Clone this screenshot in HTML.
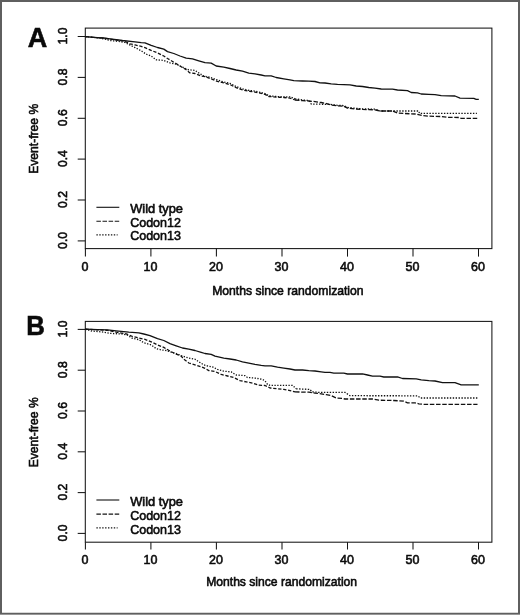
<!DOCTYPE html>
<html><head><meta charset="utf-8"><title>Event-free survival</title>
<style>
html,body{margin:0;padding:0;background:#fff;}
body{width:520px;height:615px;overflow:hidden;}
svg{display:block;}
text{font-family:"Liberation Sans", Arial, Helvetica, sans-serif;fill:#0a0a0a;stroke:#0a0a0a;stroke-width:0.6px;}
.t{font-size:13.4px;}
.ln{stroke:#141414;stroke-width:1.05;fill:none;}
.lg{stroke:#141414;stroke-width:1.12;fill:none;}
.cv{stroke:#111;stroke-width:1.3;fill:none;stroke-linejoin:round;}
</style></head><body>
<svg width="520" height="615" viewBox="0 0 520 615">
<rect x="0" y="0" width="520" height="615" fill="#fff"/>
<path d="M0 0H520V615H0Z M2 2.1V612.65H518V2.1Z" fill="#5f5f5f" fill-rule="evenodd"/>
<rect x="0" y="614" width="520" height="1" fill="#979797"/>

<g id="panelA">
<rect class="ln" x="85.3" y="28.1" width="406.6" height="220.5"/>
<line class="ln" x1="77.7" y1="240.9" x2="85.3" y2="240.9"/>
<text class="t" text-anchor="middle" textLength="17.05" lengthAdjust="spacingAndGlyphs" transform="translate(67.1,240.4) rotate(-90)">0.0</text>
<line class="ln" x1="77.7" y1="200.0" x2="85.3" y2="200.0"/>
<text class="t" text-anchor="middle" textLength="17.05" lengthAdjust="spacingAndGlyphs" transform="translate(67.1,199.5) rotate(-90)">0.2</text>
<line class="ln" x1="77.7" y1="159.1" x2="85.3" y2="159.1"/>
<text class="t" text-anchor="middle" textLength="17.05" lengthAdjust="spacingAndGlyphs" transform="translate(67.1,158.6) rotate(-90)">0.4</text>
<line class="ln" x1="77.7" y1="118.3" x2="85.3" y2="118.3"/>
<text class="t" text-anchor="middle" textLength="17.05" lengthAdjust="spacingAndGlyphs" transform="translate(67.1,117.8) rotate(-90)">0.6</text>
<line class="ln" x1="77.7" y1="77.4" x2="85.3" y2="77.4"/>
<text class="t" text-anchor="middle" textLength="17.05" lengthAdjust="spacingAndGlyphs" transform="translate(67.1,76.9) rotate(-90)">0.8</text>
<line class="ln" x1="77.7" y1="36.5" x2="85.3" y2="36.5"/>
<text class="t" text-anchor="middle" textLength="17.05" lengthAdjust="spacingAndGlyphs" transform="translate(67.1,36.0) rotate(-90)">1.0</text>
<line class="ln" x1="85.4" y1="248.6" x2="85.4" y2="256.6"/>
<text class="t" text-anchor="middle" textLength="6.95" lengthAdjust="spacingAndGlyphs" x="84.9" y="271.20">0</text>
<line class="ln" x1="150.9" y1="248.6" x2="150.9" y2="256.6"/>
<text class="t" text-anchor="middle" textLength="13.9" lengthAdjust="spacingAndGlyphs" x="150.4" y="271.20">10</text>
<line class="ln" x1="216.4" y1="248.6" x2="216.4" y2="256.6"/>
<text class="t" text-anchor="middle" textLength="13.9" lengthAdjust="spacingAndGlyphs" x="215.9" y="271.20">20</text>
<line class="ln" x1="282.0" y1="248.6" x2="282.0" y2="256.6"/>
<text class="t" text-anchor="middle" textLength="13.9" lengthAdjust="spacingAndGlyphs" x="281.5" y="271.20">30</text>
<line class="ln" x1="347.5" y1="248.6" x2="347.5" y2="256.6"/>
<text class="t" text-anchor="middle" textLength="13.9" lengthAdjust="spacingAndGlyphs" x="347.0" y="271.20">40</text>
<line class="ln" x1="413.0" y1="248.6" x2="413.0" y2="256.6"/>
<text class="t" text-anchor="middle" textLength="13.9" lengthAdjust="spacingAndGlyphs" x="412.5" y="271.20">50</text>
<line class="ln" x1="478.5" y1="248.6" x2="478.5" y2="256.6"/>
<text class="t" text-anchor="middle" textLength="13.9" lengthAdjust="spacingAndGlyphs" x="478.0" y="271.20">60</text>
<text class="t" text-anchor="middle" textLength="70" lengthAdjust="spacingAndGlyphs" transform="translate(38.3,138.8) rotate(-90)">Event-free %</text>
 <text class="t" style="font-size:13.1px" x="212.2" y="295.4" textLength="151.4" lengthAdjust="spacingAndGlyphs">Months since randomization</text>
<text transform="translate(27.8,47.4) scale(0.963,1)" font-size="28" font-weight="bold" fill="#000" stroke="none">A</text>
<line class="lg" x1="96.4" y1="207.3" x2="119.3" y2="207.3"/>
<text class="t" x="130.2" y="212.6" textLength="52.8" lengthAdjust="spacingAndGlyphs">Wild type</text>
<line class="lg" x1="96.4" y1="221.3" x2="119.3" y2="221.3" stroke-dasharray="4.5 1.6"/>
<text class="t" x="130.2" y="226.5" textLength="50.75" lengthAdjust="spacingAndGlyphs">Codon12</text>
<line class="lg" x1="96.4" y1="234.9" x2="117.6" y2="234.9" stroke-dasharray="1.4 1.5" stroke-width="1.35"/>
<text class="t" x="130.2" y="240.4" textLength="50.75" lengthAdjust="spacingAndGlyphs">Codon13</text>
<path class="cv" d="M85.4 36.7 L97.5 37.6 L103.8 38.0 L110.0 38.9 L122.5 40.5 L135.0 41.8 L141.2 42.6 L145.0 42.9 L151.2 45.4 L157.5 47.5 L163.8 49.1 L167.5 51.6 L173.8 53.5 L180.0 56.0 L186.2 58.2 L192.5 58.8 L198.8 60.8 L205.0 62.7 L211.2 63.1 L216.2 66.0 L223.8 67.2 L230.0 68.5 L236.2 70.0 L242.5 71.2 L248.8 73.1 L255.0 73.8 L261.2 75.0 L265.0 75.8 L271.2 75.8 L276.2 77.5 L283.8 78.8 L290.0 79.8 L293.8 80.6 L302.5 81.0 L308.8 81.2 L315.0 81.5 L320.0 82.9 L325.0 83.0 L331.2 83.8 L337.5 84.4 L350.0 84.8 L356.2 86.0 L362.5 86.5 L368.8 87.5 L375.0 88.1 L381.2 89.0 L392.5 89.1 L397.5 90.0 L407.5 90.6 L411.2 92.5 L417.5 92.8 L421.2 94.0 L428.8 94.4 L435.0 94.6 L441.2 95.6 L455.0 96.0 L460.0 98.1 L473.8 98.4 L476.2 99.4 L478.8 99.4"/>
<path class="cv" d="M85.4 36.7 L97.5 37.7 L103.8 38.2 L110.0 39.1 L122.5 40.9 L126.2 42.0 L130.0 43.9 L135.0 44.9 L141.2 46.4 L145.0 47.7 L151.2 50.4 L157.5 52.9 L163.8 56.0 L167.5 58.5 L173.8 62.2 L180.0 66.0 L186.2 69.8 L190.0 72.9 L195.0 73.5 L201.2 76.0 L205.0 76.6 L211.2 78.9 L217.5 81.4 L223.8 82.9 L230.0 84.6 L236.2 87.7 L242.5 89.9 L248.8 91.2 L255.0 92.1 L261.2 93.3 L265.0 94.4 L268.8 96.5 L277.5 97.2 L283.8 97.5 L290.0 98.1 L295.0 100.0" stroke-dasharray="3.3 1.7"/>
<path class="cv" d="M295.0 100.0 L302.5 100.6 L308.8 101.0 L315.0 101.6 L321.2 102.5 L325.0 103.2 L331.2 105.0 L337.5 105.9 L343.8 106.2 L347.5 108.1 L356.2 109.0 L362.5 109.4 L368.8 109.6 L375.0 109.8 L380.0 111.0 L392.5 111.0 L397.5 113.1 L410.0 113.8 L416.2 114.0 L422.5 115.6 L428.8 116.2 L441.2 116.5 L447.5 117.3 L458.8 117.5 L461.2 118.4 L477.5 118.4" stroke-dasharray="4.5 1.7"/>
<path class="cv" d="M85.4 36.7 L97.5 37.8 L103.8 38.9 L110.0 40.5 L116.2 41.1 L125.0 42.4 L128.8 44.5 L135.0 47.6 L141.2 50.8 L143.8 52.6 L147.0 54.5 L151.2 56.0 L156.2 59.8 L163.8 60.4 L170.0 62.9 L176.2 64.1 L182.5 67.2 L188.8 69.8 L195.0 70.4 L198.8 72.9 L203.8 76.0 L210.0 77.2 L217.5 80.0 L223.8 82.0 L230.0 83.4 L236.2 86.6 L242.5 88.9 L248.8 90.3 L255.0 91.2 L261.2 92.5 L265.0 93.6 L268.8 95.8 L277.5 96.6 L287.0 97.0 L290.0 96.8 L295.0 98.8" stroke-dasharray="1.3 1.5"/>
<path class="cv" d="M295.0 98.8 L302.5 100.0 L308.8 100.6 L310.5 101.8 L311.2 104.0 L330.0 104.4 L337.5 105.3 L343.8 105.6 L347.5 107.4 L356.2 108.4 L362.5 108.8 L375.0 109.2 L380.0 111.0 L418.8 111.0 L419.4 113.3 L476.9 113.3" stroke-dasharray="1.4 1.5"/>
</g>
<g id="panelB">
<rect class="ln" x="85.3" y="321.4" width="406.6" height="220.8"/>
<line class="ln" x1="77.7" y1="533.4" x2="85.3" y2="533.4"/>
<text class="t" text-anchor="middle" textLength="17.05" lengthAdjust="spacingAndGlyphs" transform="translate(67.1,532.9) rotate(-90)">0.0</text>
<line class="ln" x1="77.7" y1="492.6" x2="85.3" y2="492.6"/>
<text class="t" text-anchor="middle" textLength="17.05" lengthAdjust="spacingAndGlyphs" transform="translate(67.1,492.1) rotate(-90)">0.2</text>
<line class="ln" x1="77.7" y1="451.8" x2="85.3" y2="451.8"/>
<text class="t" text-anchor="middle" textLength="17.05" lengthAdjust="spacingAndGlyphs" transform="translate(67.1,451.3) rotate(-90)">0.4</text>
<line class="ln" x1="77.7" y1="411.0" x2="85.3" y2="411.0"/>
<text class="t" text-anchor="middle" textLength="17.05" lengthAdjust="spacingAndGlyphs" transform="translate(67.1,410.5) rotate(-90)">0.6</text>
<line class="ln" x1="77.7" y1="370.2" x2="85.3" y2="370.2"/>
<text class="t" text-anchor="middle" textLength="17.05" lengthAdjust="spacingAndGlyphs" transform="translate(67.1,369.7) rotate(-90)">0.8</text>
<line class="ln" x1="77.7" y1="329.4" x2="85.3" y2="329.4"/>
<text class="t" text-anchor="middle" textLength="17.05" lengthAdjust="spacingAndGlyphs" transform="translate(67.1,328.9) rotate(-90)">1.0</text>
<line class="ln" x1="85.4" y1="542.2" x2="85.4" y2="549.5"/>
<text class="t" text-anchor="middle" textLength="6.95" lengthAdjust="spacingAndGlyphs" x="84.9" y="563.80">0</text>
<line class="ln" x1="150.9" y1="542.2" x2="150.9" y2="549.5"/>
<text class="t" text-anchor="middle" textLength="13.9" lengthAdjust="spacingAndGlyphs" x="150.4" y="563.80">10</text>
<line class="ln" x1="216.4" y1="542.2" x2="216.4" y2="549.5"/>
<text class="t" text-anchor="middle" textLength="13.9" lengthAdjust="spacingAndGlyphs" x="215.9" y="563.80">20</text>
<line class="ln" x1="282.0" y1="542.2" x2="282.0" y2="549.5"/>
<text class="t" text-anchor="middle" textLength="13.9" lengthAdjust="spacingAndGlyphs" x="281.5" y="563.80">30</text>
<line class="ln" x1="347.5" y1="542.2" x2="347.5" y2="549.5"/>
<text class="t" text-anchor="middle" textLength="13.9" lengthAdjust="spacingAndGlyphs" x="347.0" y="563.80">40</text>
<line class="ln" x1="413.0" y1="542.2" x2="413.0" y2="549.5"/>
<text class="t" text-anchor="middle" textLength="13.9" lengthAdjust="spacingAndGlyphs" x="412.5" y="563.80">50</text>
<line class="ln" x1="478.5" y1="542.2" x2="478.5" y2="549.5"/>
<text class="t" text-anchor="middle" textLength="13.9" lengthAdjust="spacingAndGlyphs" x="478.0" y="563.80">60</text>
<text class="t" text-anchor="middle" textLength="70" lengthAdjust="spacingAndGlyphs" transform="translate(38.3,432.3) rotate(-90)">Event-free %</text>
 <text class="t" style="font-size:13.1px" x="206.2" y="586.2" textLength="150.9" lengthAdjust="spacingAndGlyphs">Months since randomization</text>
<text transform="translate(26.15,335.3) scale(0.92,1)" font-size="28" font-weight="bold" fill="#000" stroke="none">B</text>
<line class="lg" x1="96.4" y1="500.0" x2="119.3" y2="500.0"/>
<text class="t" x="130.2" y="506.0" textLength="52.8" lengthAdjust="spacingAndGlyphs">Wild type</text>
<line class="lg" x1="96.4" y1="514.1" x2="119.3" y2="514.1" stroke-dasharray="4.5 1.6"/>
<text class="t" x="130.2" y="519.9" textLength="50.75" lengthAdjust="spacingAndGlyphs">Codon12</text>
<line class="lg" x1="96.4" y1="527.9" x2="117.6" y2="527.9" stroke-dasharray="1.4 1.5" stroke-width="1.35"/>
<text class="t" x="130.2" y="533.6" textLength="50.75" lengthAdjust="spacingAndGlyphs">Codon13</text>
<path class="cv" d="M85.4 329.2 L97.5 329.6 L107.5 329.9 L116.2 330.9 L128.8 332.1 L138.8 332.8 L143.8 334.0 L150.0 335.6 L151.2 336.1 L157.5 338.6 L163.8 340.5 L170.0 343.6 L176.2 345.8 L182.5 348.0 L188.8 349.2 L195.0 350.5 L201.2 352.4 L205.0 353.5 L211.2 354.4 L215.0 356.2 L223.8 358.1 L230.0 359.0 L236.2 360.0 L242.5 361.9 L248.8 363.1 L255.0 364.4 L261.2 365.4 L265.0 365.8 L271.2 365.8 L277.5 367.2 L283.8 368.1 L290.0 369.0 L295.0 370.0 L302.5 370.0 L308.8 370.6 L315.0 371.0 L321.2 371.9 L325.0 372.4 L330.0 372.4 L333.8 373.1 L343.8 373.1 L347.5 374.0 L362.5 373.9 L367.5 375.0 L372.5 376.2 L380.0 376.2 L383.8 377.0 L397.5 376.8 L402.5 378.5 L416.2 378.8 L421.2 379.8 L428.8 380.6 L435.0 381.0 L442.5 382.6 L455.0 382.6 L461.2 384.8 L478.8 384.8"/>
<path class="cv" d="M85.4 329.2 L97.5 329.8 L107.5 330.4 L116.2 332.1 L126.2 333.8 L132.5 336.5 L138.8 338.0 L145.0 339.4 L151.2 341.8 L157.5 344.9 L163.8 347.4 L170.0 351.1 L176.2 354.2 L181.2 356.1 L183.8 359.2 L188.8 363.0 L195.0 364.9 L201.2 366.8 L205.0 368.3 L208.8 370.6 L215.0 371.5 L221.2 374.4 L227.5 376.0 L233.8 377.5 L240.0 380.6 L246.2 381.9 L252.5 383.1 L258.8 385.2 L265.0 385.5 L270.0 388.0 L277.5 388.8 L283.8 389.4 L290.0 390.6 L295.0 391.9" stroke-dasharray="3.3 1.7"/>
<path class="cv" d="M295.0 391.9 L302.5 392.1 L308.8 392.2 L315.0 393.1 L321.2 393.8 L326.2 394.7 L331.2 395.6 L336.2 398.1 L342.5 398.5 L345.0 399.0 L372.5 399.0 L378.8 400.2 L393.8 400.5 L403.8 401.2 L407.5 402.8 L415.0 402.8 L418.8 403.8 L423.8 404.4 L477.5 404.4" stroke-dasharray="4.5 1.7"/>
<path class="cv" d="M85.4 329.2 L91.2 330.9 L97.5 331.5 L103.8 332.1 L110.0 333.4 L122.5 334.0 L127.5 335.2 L132.5 338.4 L138.8 339.6 L143.8 342.8 L147.0 343.7 L151.2 344.9 L156.2 348.6 L161.2 349.9 L166.2 350.5 L170.0 351.8 L176.2 353.6 L182.5 356.1 L188.8 358.0 L195.0 359.2 L198.8 361.8 L203.8 364.9 L207.0 365.8 L212.5 366.9 L217.5 369.4 L223.8 371.2 L231.2 371.9 L236.2 375.0 L245.0 375.6 L247.5 377.5 L255.0 378.1 L262.5 379.4 L265.0 380.8 L267.5 384.4 L270.0 385.4 L292.5 385.4 L296.2 388.8" stroke-dasharray="1.3 1.5"/>
<path class="cv" d="M296.2 388.8 L310.0 389.4 L311.9 391.9 L320.0 392.4 L345.0 392.4 L350.0 395.7 L417.5 395.8 L420.6 398.0 L478.1 398.0" stroke-dasharray="1.4 1.5"/>
</g>
</svg></body></html>
